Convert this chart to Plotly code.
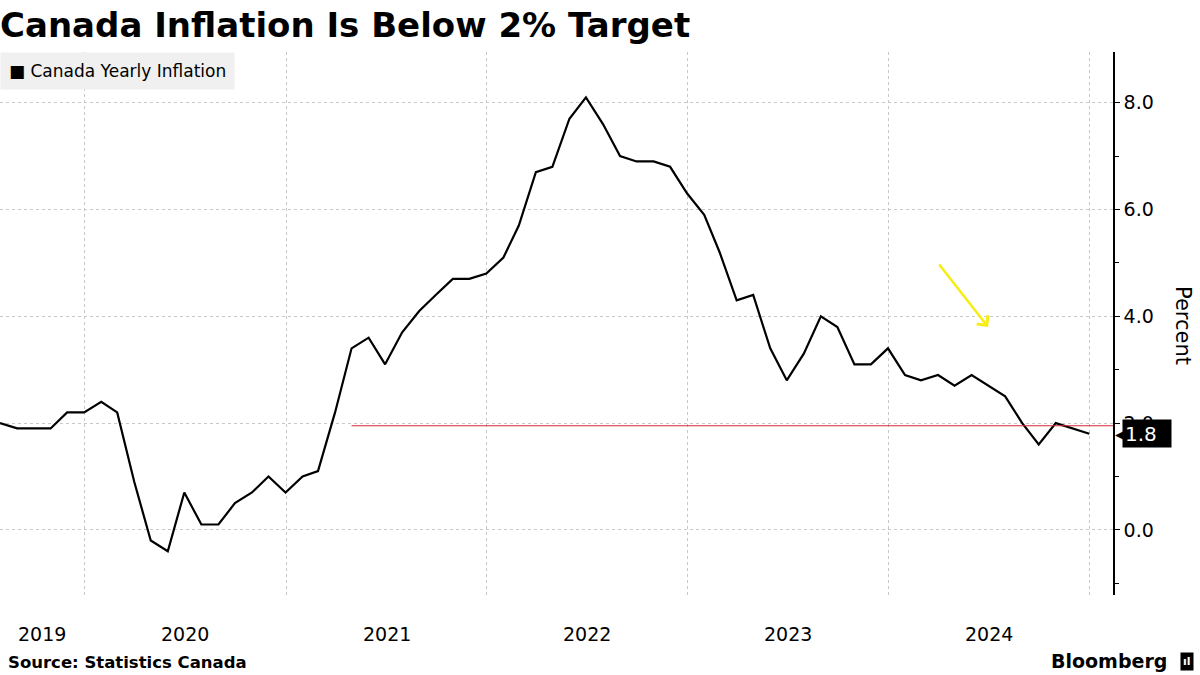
import pandas as pd
import plotly.graph_objects as go

# Canada CPI, year-over-year %, monthly (month-end dates)
months = pd.date_range("2019-07-31", "2024-12-31", freq="ME")
inflation = [
    2.0, 1.9, 1.9, 1.9, 2.2, 2.2,                                # 2019 Jul-Dec
    2.4, 2.2, 0.9, -0.2, -0.4, 0.7, 0.1, 0.1, 0.5, 0.7, 1.0, 0.7,  # 2020
    1.0, 1.1, 2.2, 3.4, 3.6, 3.1, 3.7, 4.1, 4.4, 4.7, 4.7, 4.8,    # 2021
    5.1, 5.7, 6.7, 6.8, 7.7, 8.1, 7.6, 7.0, 6.9, 6.9, 6.8, 6.3,    # 2022
    5.9, 5.2, 4.3, 4.4, 3.4, 2.8, 3.3, 4.0, 3.8, 3.1, 3.1, 3.4,    # 2023
    2.9, 2.8, 2.9, 2.7, 2.9, 2.7, 2.5, 2.0, 1.6, 2.0, 1.9, 1.8,    # 2024
]
years = ["2019", "2020", "2021", "2022", "2023", "2024"]
target_level = 1.95
target_start = "2021-04-30"
arrow_from = ("2024-03-31", 5.0)
arrow_to = ("2024-06-30", 3.8)

x_range = [pd.Timestamp("2019-07-31"), pd.Timestamp("2025-02-12")]
y_range = [-1.22, 8.95]
year_starts = [pd.Timestamp(f"{int(y) + 1}-01-01") for y in years]

FONT = "DejaVu Sans"
PLOT_W, PLOT_H, PLOT_TOP = 1113, 543, 52


def px(x, y):
    """page pixels -> paper coords"""
    return x / PLOT_W, (PLOT_TOP + PLOT_H - y) / PLOT_H


fig = go.Figure()
fig.add_trace(go.Scatter(
    x=months, y=inflation, mode="lines",
    line=dict(color="black", width=2.2), showlegend=False, hoverinfo="skip",
))
fig.add_trace(go.Scatter(
    x=[pd.Timestamp(target_start), x_range[1]], y=[target_level, target_level],
    mode="lines", line=dict(color="#d7263d", width=1), showlegend=False,
    hoverinfo="skip",
))

annotations = []
# year labels centred in the visible part of each year
for y in years:
    lo = max(pd.Timestamp(f"{y}-01-01"), x_range[0])
    hi = min(pd.Timestamp(f"{int(y) + 1}-01-01"), x_range[1])
    annotations.append(dict(
        x=lo + (hi - lo) / 2, y=px(0, 634)[1], xref="x", yref="paper",
        text=y, showarrow=False, yanchor="middle",
        font=dict(family=FONT, size=19, color="black"),
    ))

# yellow arrow
annotations.append(dict(
    x=arrow_to[0], y=arrow_to[1], ax=arrow_from[0], ay=arrow_from[1],
    xref="x", yref="y", axref="x", ayref="y", text="",
    showarrow=True, arrowhead=4, arrowsize=1.1, arrowwidth=2.5,
    arrowcolor="#f7ec13",
))

# last value tag
last = inflation[-1]
annotations.append(dict(
    x=1.0, y=last, xref="paper", yref="y", xanchor="left", yanchor="middle",
    xshift=0, text="◀", showarrow=False,
    font=dict(family=FONT, size=17, color="black"),
))
annotations.append(dict(
    x=1.0, y=last, xref="paper", yref="y", xanchor="left", yanchor="middle",
    xshift=9, text=f"{last:.1f}", showarrow=False, bgcolor="black",
    width=44, height=23, align="left", borderpad=2,
    font=dict(family=FONT, size=20, color="white"),
))

# legend box
lx, ly = px(0, 52)
annotations.append(dict(
    x=lx, y=ly, xref="paper", yref="paper", xanchor="left", yanchor="top",
    text="■ Canada Yearly Inflation", showarrow=False,
    bgcolor="#f0f0f0", borderpad=8,
    font=dict(family=FONT, size=17, color="black"),
))

# axis title
tx, ty = px(1183, 325)
annotations.append(dict(
    x=tx, y=ty, xref="paper", yref="paper", text="Percent",
    showarrow=False, textangle=90, xanchor="center", yanchor="middle",
    font=dict(family=FONT, size=21, color="black"),
))

# source + branding
sx, sy = px(6, 662)
annotations.append(dict(
    x=sx, y=sy, xref="paper", yref="paper", text="<b>Source: Statistics Canada</b>",
    showarrow=False, xanchor="left", yanchor="middle",
    font=dict(family=FONT, size=16.5, color="black"),
))
bx, by = px(1169, 661)
annotations.append(dict(
    x=bx, y=by, xref="paper", yref="paper", text="<b>Bloomberg</b>",
    showarrow=False, xanchor="right", yanchor="middle",
    font=dict(family=FONT, size=19, color="black"),
))
gx, gy = px(1187, 661)
annotations.append(dict(
    x=gx, y=gy, xref="paper", yref="paper", text="<b>ıl</b>",
    showarrow=False, xanchor="center", yanchor="middle", bgcolor="black",
    borderpad=2, font=dict(family=FONT, size=11, color="white"),
))

fig.update_layout(
    width=1200, height=675,
    margin=dict(l=0, r=1200 - PLOT_W, t=PLOT_TOP, b=675 - PLOT_TOP - PLOT_H),
    paper_bgcolor="white", plot_bgcolor="white",
    title=dict(
        text="<b>Canada Inflation Is Below 2% Target</b>",
        x=0, xref="container", xanchor="left",
        y=1 - 25 / 675, yanchor="middle",
        font=dict(family=FONT, size=34, color="black"),
    ),
    xaxis=dict(
        type="date", range=x_range, tickvals=year_starts,
        showticklabels=False, showgrid=True, gridcolor="#c8c8c8",
        griddash="dot", gridwidth=1, zeroline=False, showline=False,
        ticks="",
    ),
    yaxis=dict(
        side="right", range=y_range, tickvals=[0, 2, 4, 6, 8],
        ticktext=["0.0", "2.0", "4.0", "6.0", "8.0"],
        showgrid=True, gridcolor="#c8c8c8", griddash="dot", gridwidth=1,
        zeroline=False, showline=True, linecolor="black", linewidth=1.5,
        ticks="outside", ticklen=5, tickcolor="black",
        minor=dict(tickvals=[-1, 1, 3, 5, 7], ticks="outside", ticklen=4,
                   tickcolor="black", showgrid=False),
        tickfont=dict(family=FONT, size=19, color="black"),
    ),
    annotations=annotations,
    showlegend=False,
)

fig.write_html(
    "out.html",
    config={"displayModeBar": False},
    post_script="document.body.style.margin='0';",
)
